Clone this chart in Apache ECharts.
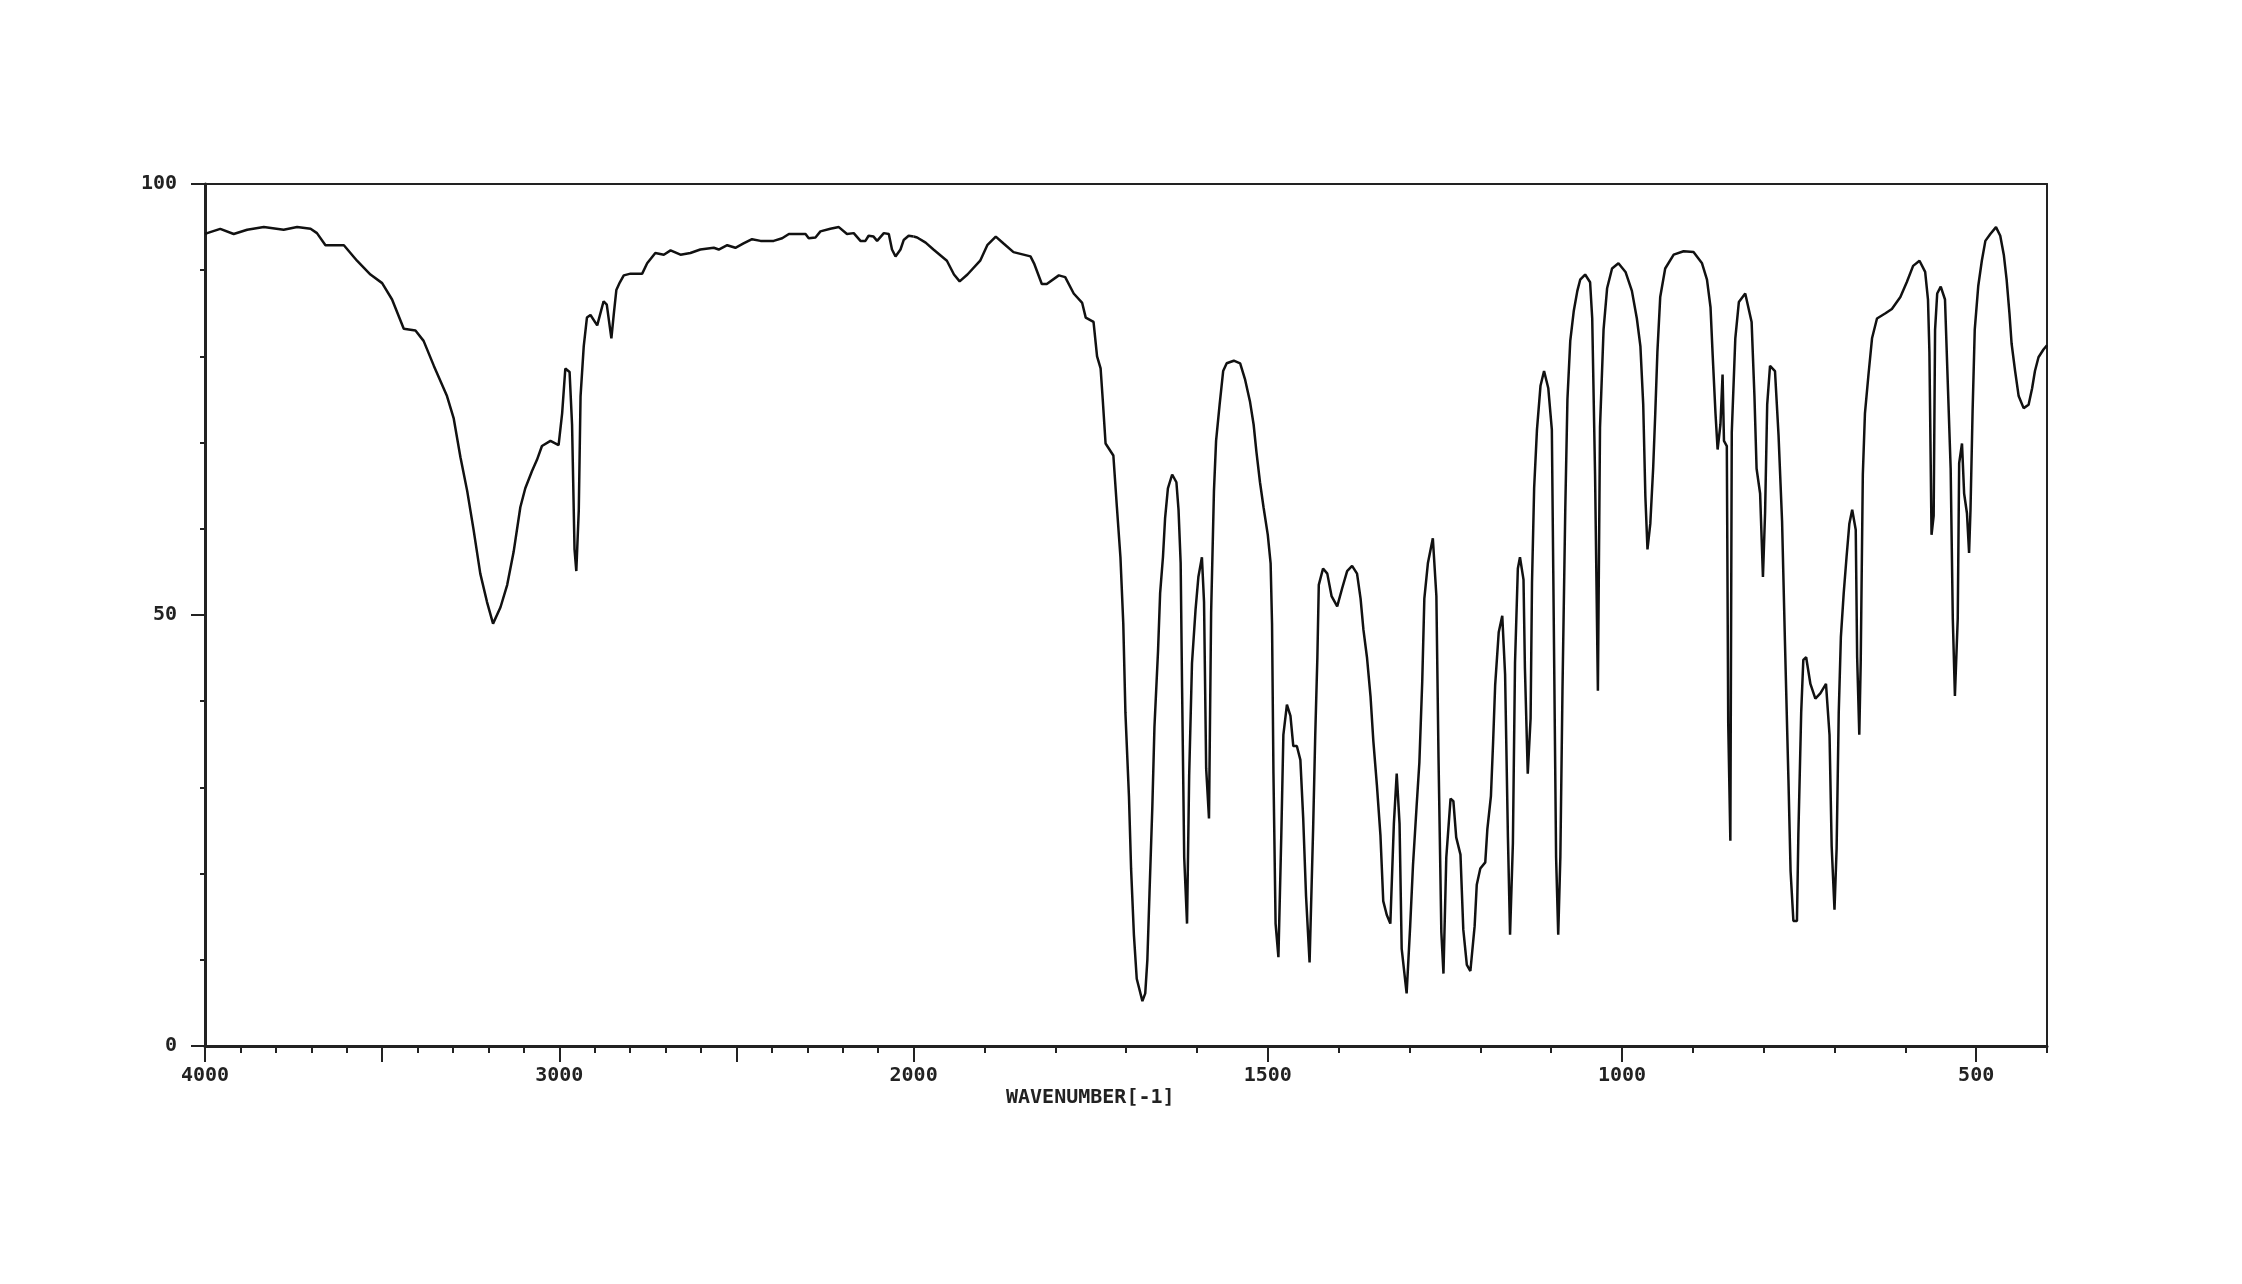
<!DOCTYPE html>
<html>
<head>
<meta charset="utf-8">
<script src="https://cdn.jsdelivr.net/npm/echarts@6/dist/echarts.min.js"></script>
<style>html,body{margin:0;padding:0;background:#fff}#c{width:2242px;height:1284px}</style>
</head>
<body>
<div id="c"></div>
<script>
// Wavenumber (cm-1) and transmittance (%)
const wavenumbers = [
4000,3994,3957,3919,3881,3834,3778,3740,3702,3684,3660,3608,3571,3533,3500,3472,3439,3406,3383,3354,
3317,3298,3279,3260,3242,3223,3204,3187,3166,3147,3129,3110,3096,3077,3063,3049,3025,3002,2992,2983,
2971,2964,2957,2952,2945,2940,2931,2922,2912,2893,2875,2866,2853,2846,2839,2829,2818,2799,2766,2752,
2729,2705,2686,2658,2630,2602,2564,2550,2526,2503,2480,2456,2432,2395,2371,2352,2305,2296,2277,2263,
2235,2211,2188,2169,2150,2136,2127,2113,2103,2084,2070,2061,2051,2037,2028,2014,2000,
1995,1983,1972,1953,1943,1935,1924,1906,1896,1884,1873,1859,1835,1830,1819,1812,1795,1786,1774,1762,
1757,1746,1741,1736,1733,1729,1718,1713,1708,1704,1701,1696,1693,1689,1685,1677,1673,1670,1667,1663,
1660,1655,1652,1648,1645,1641,1635,1629,1626,1623,1621,1618,1614,1611,1607,1602,1598,1593,1590,1587,
1583,1580,1576,1573,1568,1563,1558,1548,1539,1532,1525,1520,1516,1511,1506,1500,1496,1494,1492,1489,
1485,1481,1478,1473,1468,1464,1459,1454,1450,1446,1441,1436,1433,1430,1428,1422,1416,1410,1402,1395,
1388,1381,1374,1369,1365,1360,1355,1351,1346,1341,1337,1332,1327,1322,1318,1314,1311,1304,1299,1295,
1290,1286,1282,1279,1274,1267,1262,1259,1255,1252,1248,1242,1238,1234,1228,1224,1219,1214,1208,1205,
1200,1193,1190,1185,1182,1179,1174,1169,1165,1161,1158,1154,1151,1147,1144,1139,1137,1133,1129,1127,
1124,1120,1115,1110,1104,1099,1097,1093,1090,1087,1084,1080,1077,1073,1068,1063,1059,1052,1045,1042,
1038,1034,1031,1026,1021,1014,1005,995,986,979,974,970,967,964,960,956,953,950,946,939,
927,913,899,887,880,875,872,868,865,861,858,856,852,850,847,845,840,835,826,817,
813,810,805,801,798,795,791,784,779,774,770,765,762,758,753,751,747,744,740,734,
727,720,712,707,704,700,697,694,691,687,683,679,675,670,668,665,663,660,657,652,
647,640,628,619,607,598,589,580,572,568,566,563,560,558,555,550,544,541,536,533,
530,526,524,520,517,513,510,508,505,502,497,492,487,480,472,466,461,457,453,450,
445,440,433,426,421,417,412,405,400
];
const transmittance = [
94.2,94.3,94.8,94.2,94.7,95.0,94.7,95.0,94.8,94.3,92.9,92.9,91.1,89.5,88.5,86.6,83.2,83.0,81.8,78.9,
75.4,72.8,68.3,64.4,59.9,54.8,51.5,49.0,50.9,53.5,57.3,62.5,64.7,66.7,68.0,69.6,70.2,69.7,73.4,78.6,
78.2,72.1,57.6,55.1,62.2,75.4,81.2,84.5,84.8,83.6,86.4,86.0,82.1,85.0,87.7,88.6,89.4,89.6,89.6,90.8,
92.0,91.8,92.3,91.8,92.0,92.4,92.6,92.4,92.9,92.6,93.1,93.6,93.4,93.4,93.7,94.2,94.2,93.7,93.8,94.5,
94.8,95.0,94.2,94.3,93.4,93.4,94.0,93.9,93.4,94.3,94.2,92.4,91.6,92.4,93.5,94.0,93.9,
93.8,93.2,92.4,91.1,89.5,88.7,89.5,91.1,92.9,93.9,93.1,92.1,91.6,90.8,88.4,88.4,89.4,89.2,87.3,86.2,
84.5,84.0,80.0,78.6,75.0,69.9,68.5,62.5,56.7,49.0,38.7,29.0,20.6,12.9,7.8,5.2,6.1,10.0,17.7,27.7,
37.0,45.7,52.5,56.7,61.2,64.7,66.3,65.4,62.2,56.0,41.6,21.9,14.2,31.3,44.4,50.6,54.4,56.7,51.5,32.2,
26.4,50.2,64.4,70.2,74.4,78.3,79.2,79.5,79.2,77.3,74.7,72.1,68.9,65.4,62.5,59.3,56.0,49.0,31.6,14.2,
10.3,24.2,36.1,39.6,38.3,34.8,34.8,33.2,26.4,17.4,9.7,25.2,36.1,45.1,53.5,55.4,54.8,52.2,51.0,53.1,
55.1,55.7,54.8,51.9,48.3,45.1,40.6,35.4,30.3,24.5,16.8,15.2,14.2,25.8,31.6,25.8,11.3,6.1,13.9,21.0,
27.7,32.9,42.2,51.9,56.0,58.9,52.2,33.5,13.2,8.4,21.9,28.7,28.4,24.2,22.2,13.5,9.4,8.7,13.9,18.7,
20.6,21.3,25.2,29.0,35.1,41.9,48.0,49.9,43.1,24.2,12.9,23.5,44.4,55.4,56.7,54.1,43.8,31.6,38.0,53.8,
64.7,71.5,76.6,78.3,76.3,71.5,55.1,21.9,12.9,21.9,41.2,62.5,75.0,81.8,85.3,87.6,88.9,89.5,88.6,84.4,
66.3,41.2,71.8,83.1,87.9,90.2,90.8,89.8,87.6,84.4,81.2,74.4,63.8,57.6,60.6,67.0,73.4,80.5,86.9,90.2,
91.8,92.2,92.1,90.8,88.9,85.7,80.2,73.4,69.2,72.1,77.9,70.2,69.6,37.4,23.8,71.2,82.1,86.3,87.3,84.0,
75.4,67.0,64.1,54.4,61.8,74.4,78.9,78.3,70.9,60.9,47.1,30.9,20.3,14.5,14.5,24.5,38.7,44.8,45.1,42.0,
40.3,40.9,42.0,36.1,23.2,15.8,22.9,38.7,47.4,52.5,56.7,60.6,62.2,59.9,45.1,36.1,44.4,66.3,73.4,77.9,
82.1,84.4,85.0,85.5,86.9,88.6,90.5,91.1,89.8,86.6,80.5,59.3,61.5,83.1,87.3,88.1,86.6,79.2,67.0,49.6,
40.6,49.6,67.6,69.9,64.1,61.8,57.2,62.2,73.8,83.1,88.2,91.1,93.4,94.2,95.0,94.0,91.8,88.9,85.0,81.5,
78.3,75.4,74.0,74.4,76.3,78.3,79.9,80.8,81.3
];

// Axis labels / ticks
const xLabelsHigh = [4000, 3000, 2000];   // region 4000-2000 (compressed scale)
const xLabelsLow = [1500, 1000, 500];      // region 2000-400 (expanded scale)
const yLabels = [0, 50, 100];
const xAxisTitle = 'WAVENUMBER[-1]';

const highData = [], lowData = [];
wavenumbers.forEach((w, i) => {
  if (w >= 2000) highData.push([w, transmittance[i]]);
  if (w <= 2000) lowData.push([w, transmittance[i]]);
});

const ink = '#222';
const labelFont = {fontFamily: 'DejaVu Sans Mono', fontWeight: 'bold', fontSize: 20, color: ink};
const noSplit = {show: false};

const chart = echarts.init(document.getElementById('c'), null, {renderer: 'canvas'});
chart.setOption({
  animation: false,
  backgroundColor: '#fff',
  grid: [
    {left: 205, right: 1328.4, top: 184, bottom: 238},
    {left: 913.6, right: 195, top: 184, bottom: 238}
  ],
  xAxis: [
    {gridIndex: 0, type: 'value', min: 2000, max: 4000, inverse: true, position: 'bottom', interval: 500,
     axisLine: {show: true, onZero: false, lineStyle: {color: ink, width: 3}},
     axisTick: {show: true, inside: false, length: 16, lineStyle: {color: ink, width: 2}},
     axisLabel: Object.assign({margin: 20, formatter: v => xLabelsHigh.includes(v) ? String(v) : ''}, labelFont),
     splitLine: noSplit},
    {gridIndex: 0, type: 'value', min: 2000, max: 4000, inverse: true, position: 'bottom', interval: 100,
     axisLine: {show: false, onZero: false},
     axisTick: {show: true, inside: false, length: 7, lineStyle: {color: ink, width: 2}},
     axisLabel: {show: false}, splitLine: noSplit},
    {gridIndex: 0, type: 'value', min: 2000, max: 4000, inverse: true, position: 'top',
     axisLine: {show: true, onZero: false, lineStyle: {color: ink, width: 2}},
     axisTick: {show: false}, axisLabel: {show: false}, splitLine: noSplit},
    {gridIndex: 1, type: 'value', min: 400, max: 2000, inverse: true, position: 'bottom',
     axisLine: {show: true, onZero: false, lineStyle: {color: ink, width: 3}},
     axisTick: {show: true, inside: false, length: 16, customValues: xLabelsLow, lineStyle: {color: ink, width: 2}},
     axisLabel: Object.assign({margin: 20, customValues: xLabelsLow, formatter: v => String(v)}, labelFont),
     splitLine: noSplit},
    {gridIndex: 1, type: 'value', min: 400, max: 2000, inverse: true, position: 'bottom', interval: 100,
     axisLine: {show: false, onZero: false},
     axisTick: {show: true, inside: false, length: 7, lineStyle: {color: ink, width: 2}},
     axisLabel: {show: false}, splitLine: noSplit},
    {gridIndex: 1, type: 'value', min: 400, max: 2000, inverse: true, position: 'top',
     axisLine: {show: true, onZero: false, lineStyle: {color: ink, width: 2}},
     axisTick: {show: false}, axisLabel: {show: false}, splitLine: noSplit}
  ],
  yAxis: [
    {gridIndex: 0, type: 'value', min: 0, max: 100, position: 'left',
     axisLine: {show: true, onZero: false, lineStyle: {color: ink, width: 3}},
     axisTick: {show: true, inside: false, length: 14, customValues: yLabels, lineStyle: {color: ink, width: 2}},
     axisLabel: Object.assign({margin: 28, customValues: yLabels, formatter: v => String(v)}, labelFont),
     splitLine: noSplit},
    {gridIndex: 0, type: 'value', min: 0, max: 100, position: 'left', interval: 10,
     axisLine: {show: false, onZero: false},
     axisTick: {show: true, inside: false, length: 5, lineStyle: {color: ink, width: 2}},
     axisLabel: {show: false}, splitLine: noSplit},
    {gridIndex: 1, type: 'value', min: 0, max: 100, position: 'right',
     axisLine: {show: true, onZero: false, lineStyle: {color: ink, width: 2}},
     axisTick: {show: false}, axisLabel: {show: false}, splitLine: noSplit}
  ],
  graphic: [{
    type: 'text', left: 1006, top: 1088,
    style: {text: xAxisTitle, fill: ink, font: 'bold 20px "DejaVu Sans Mono"'}
  }],
  series: [
    {type: 'line', xAxisIndex: 0, yAxisIndex: 0, data: highData, showSymbol: false, smooth: false,
     lineStyle: {color: '#111', width: 2.5}},
    {type: 'line', xAxisIndex: 3, yAxisIndex: 2, data: lowData, showSymbol: false, smooth: false,
     lineStyle: {color: '#111', width: 2.5}}
  ]
});
</script>
</body>
</html>
